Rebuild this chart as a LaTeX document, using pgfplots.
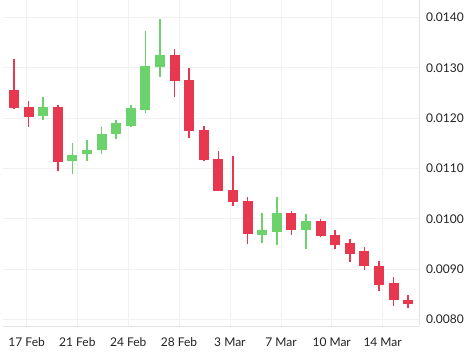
\documentclass[border=0pt]{standalone}
\usepackage{fontspec}
\setmainfont{Lato}
\usepackage{pgfplots}
\usepackage{pgfplotstable}
\pgfplotsset{compat=1.18}
\definecolor{cred}{RGB}{232,56,80}
\definecolor{cgreen}{RGB}{108,210,108}
\definecolor{cgrid}{RGB}{241,241,241}
\definecolor{caxis}{RGB}{228,228,228}
\definecolor{ctext}{RGB}{34,34,34}

% i open high low close
\pgfplotstableread{
i o h l c
0 0.01255 0.01317 0.01219 0.01220
1 0.01223 0.01234 0.01182 0.01203
3 0.01223 0.01227 0.01094 0.01112
11 0.01326 0.01338 0.01241 0.01274
12 0.01275 0.01299 0.01160 0.01175
13 0.01177 0.01184 0.01114 0.01117
14 0.01119 0.01134 0.01055 0.01056
15 0.01058 0.01124 0.01025 0.01034
16 0.01036 0.01043 0.00950 0.00970
19 0.01011 0.01015 0.00968 0.00977
21 0.00995 0.01000 0.00963 0.00965
22 0.00967 0.00977 0.00939 0.00948
23 0.00951 0.00960 0.00914 0.00930
24 0.00935 0.00944 0.00899 0.00906
25 0.00907 0.00915 0.00856 0.00869
26 0.00873 0.00885 0.00826 0.00838
27 0.00839 0.00848 0.00823 0.00830
}\redtable

\pgfplotstableread{
i o h l c
2 0.01205 0.01242 0.01197 0.01223
4 0.01114 0.01151 0.01088 0.01126
5 0.01128 0.01156 0.01115 0.01136
6 0.01136 0.01183 0.01128 0.01169
7 0.01168 0.01197 0.01159 0.01191
8 0.01185 0.01227 0.01183 0.01220
9 0.01217 0.01373 0.01210 0.01303
10 0.01302 0.01397 0.01281 0.01325
17 0.00968 0.01012 0.00952 0.00977
18 0.00973 0.01043 0.00947 0.01011
20 0.00977 0.01009 0.00940 0.00995
}\greentable

\begin{document}
\begin{tikzpicture}
\begin{axis}[
  anchor=south west, at={(0pt,0pt)},
  scale only axis, width=416pt, height=326pt,
  xmin=-0.75, xmax=27.74,
  ymin=0.00786, ymax=0.01434,
  axis x line=bottom, axis y line=right,
  axis line style={draw=caxis, line width=0.8pt, -},
  xtick={0.87,4.34,7.83,11.30,14.79,18.29,21.76,25.25},
  xticklabels={17 Feb,21 Feb,24 Feb,28 Feb,3 Mar,7 Mar,10 Mar,14 Mar},
  ytick={0.008,0.009,0.010,0.011,0.012,0.013,0.014},
  scaled y ticks=false,
  yticklabel style={/pgf/number format/fixed, /pgf/number format/fixed zerofill, /pgf/number format/precision=4, /pgf/number format/assume math mode=true},
  yticklabel style={anchor=west, inner sep=0pt, xshift=7pt, text=ctext, font=\fontsize{12}{14}\selectfont},
  xticklabel style={anchor=north, inner sep=0pt, yshift=-11pt, text=ctext, font=\fontsize{12}{14}\selectfont},
  major tick length=0pt,
  grid=major,
  major grid style={draw=cgrid, line width=0.8pt},
  clip=false,
]
% wicks
\addplot[draw=none, mark=none, forget plot,
  error bars/.cd, y dir=plus, y explicit, error mark=none,
  error bar style={line width=1.6pt, draw=cred}]
  table[x=i, y=l, y error expr=\thisrow{h}-\thisrow{l}] {\redtable};
\addplot[draw=none, mark=none, forget plot,
  error bars/.cd, y dir=plus, y explicit, error mark=none,
  error bar style={line width=1.6pt, draw=cgreen}]
  table[x=i, y=l, y error expr=\thisrow{h}-\thisrow{l}] {\greentable};
% bodies
\addplot[draw=none, mark=none, forget plot,
  error bars/.cd, y dir=plus, y explicit, error mark=none,
  error bar style={line width=10pt, draw=cred}]
  table[x=i, y=c, y error expr=\thisrow{o}-\thisrow{c}] {\redtable};
\addplot[draw=none, mark=none, forget plot,
  error bars/.cd, y dir=plus, y explicit, error mark=none,
  error bar style={line width=10pt, draw=cgreen}]
  table[x=i, y=o, y error expr=\thisrow{c}-\thisrow{o}] {\greentable};
\end{axis}
\path[use as bounding box] (-3pt,-29pt) rectangle (471pt,326pt);
\end{tikzpicture}
\end{document}
